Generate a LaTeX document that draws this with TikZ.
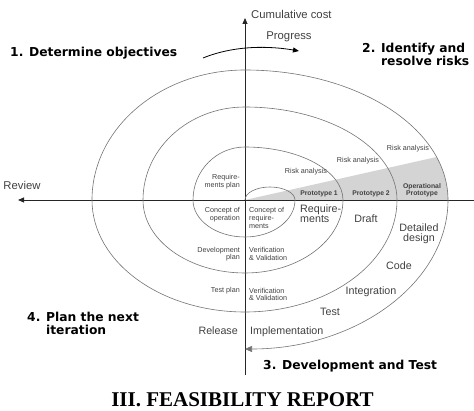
\documentclass[tikz,border=0pt]{standalone}
\usepackage{fontspec}
\setmainfont{Liberation Sans}
\newfontfamily\headfont{DejaVu Sans}
\newfontfamily\titlefont{Liberation Serif}
\usepackage{tikz}
\usetikzlibrary{arrows.meta}
\tikzstyle{spiral} = [draw=black!55,line width=0.6pt]
\tikzstyle{axis} = [draw=black!85,line width=0.8pt,-{Triangle[length=6pt,width=5pt]}]
\tikzstyle{riskwedge} = [fill=black!17]
\tikzstyle{labelsm} = [font=\fontsize{7.2}{7.6}\selectfont,text=black!75,inner sep=0pt]
\tikzstyle{labelproto} = [labelsm,font=\bfseries\fontsize{6.8}{7.3}\selectfont]
\tikzstyle{labelmd} = [font=\fontsize{10.7}{10}\selectfont,text=black!75,inner sep=0pt]
\tikzstyle{labelax} = [font=\fontsize{11.3}{12}\selectfont,text=black!75,inner sep=0pt]
\tikzstyle{quadrant} = [font=\headfont\bfseries\fontsize{12.3}{13}\selectfont,inner sep=0pt,align=left]

\begin{document}
\begin{tikzpicture}[x=1pt,y=-1pt]
    \useasboundingbox (0,0) rectangle (474,411);
    \coordinate (O) at (245,200);
    \coordinate (costtop) at (245,18);
    \coordinate (costbot) at (245,375);
    \coordinate (reviewend) at (18,200);
    \coordinate (axisright) at (474,200);
    \coordinate (progstart) at (203,58);
    \coordinate (progend) at (299,51);

    % shaded prototype wedge
    \path[riskwedge] (O) -- (436.6,157) arc[start angle=-19.3,end angle=0,x radius=203,y radius=130] -- cycle;

    % axes
    \path[axis] (costbot) -- (costtop);
    \path[axis] (axisright) -- (reviewend);
    \path[axis,draw=black] (progstart) .. controls (235,45) and (270,46) .. (progend);

    % spiral
    \path[spiral,-{Triangle[length=7pt,width=6pt]}] (O) arc[start angle=180,end angle=360,x radius=25,y radius=13]
        \foreach \a/\rx/\ry in {0/50/37,90/52/37,180/52/53,270/98/53,0/98/73,90/102/73,180/102/93,
                                270/152/93,0/152/112,90/153/112,180/153/130,270/203/130,0/203/149} {
            arc[start angle=\a,delta angle=90,x radius=\rx,y radius=\ry]
        };

    \node[labelax,anchor=west] (cost) at (251,14) {Cumulative cost};
    \node[labelax] (progress) at (289,37) {Progress};
    \node[labelax] (review) at (22,185) {Review};

    \node[quadrant,anchor=west] (objectives) at (10,53) {1. Determine objectives};
    \node[quadrant,anchor=west] (risks) at (362,54) {2. Identify and\\\hphantom{2. }resolve risks};
    \node[quadrant,anchor=west] (devtest) at (263,366) {3. Development and Test};
    \node[quadrant,anchor=west] (nextiter) at (27,323.5) {4. Plan the next\\\hphantom{4. }iteration};

    \node[labelsm,anchor=east,align=right] (reqplan) at (240,181.5) {Require-\\ments plan};
    \node[labelsm,anchor=east,align=right] (conceptop) at (240,214.5) {Concept of\\operation};
    \node[labelsm,anchor=west,align=left] (conceptreq) at (249,218) {Concept of\\require-\\ments};
    \node[labelsm,anchor=east,align=right] (devplan) at (240,254) {Development\\plan};
    \node[labelsm,anchor=west,align=left] (verif1) at (249,254) {Verification\\\& Validation};
    \node[labelsm,anchor=east] (testplan) at (240,291) {Test plan};
    \node[labelsm,anchor=west,align=left] (verif2) at (249,294.5) {Verification\\\& Validation};

    \node[labelsm] (risk1) at (306,172) {Risk analysis};
    \node[labelsm] (risk2) at (358,161) {Risk analysis};
    \node[labelsm] (risk3) at (408,149) {Risk analysis};
    \node[labelproto] (proto1) at (319,194) {Prototype 1};
    \node[labelproto] (proto2) at (371,194) {Prototype 2};
    \node[labelproto,align=center] (opproto) at (422,190.5) {Operational\\Prototype};

    \node[labelmd,anchor=west,align=left] (reqs) at (300,214) {Require-\\ments};
    \node[labelmd] (draft) at (366,219) {Draft};
    \node[labelmd,align=center] (detdesign) at (419,233.5) {Detailed\\design};
    \node[labelmd] (code) at (399,266) {Code};
    \node[labelmd] (integration) at (371,292) {Integration};
    \node[labelmd] (test) at (330,312) {Test};
    \node[labelmd,anchor=east] (release) at (238,331) {Release};
    \node[labelmd,anchor=west] (implement) at (250,332) {Implementation};

    \node[font=\titlefont\bfseries\fontsize{21}{23}\selectfont,inner sep=0pt,anchor=base] (title) at (242.5,406.5) {III. FEASIBILITY REPORT};
\end{tikzpicture}
\end{document}
